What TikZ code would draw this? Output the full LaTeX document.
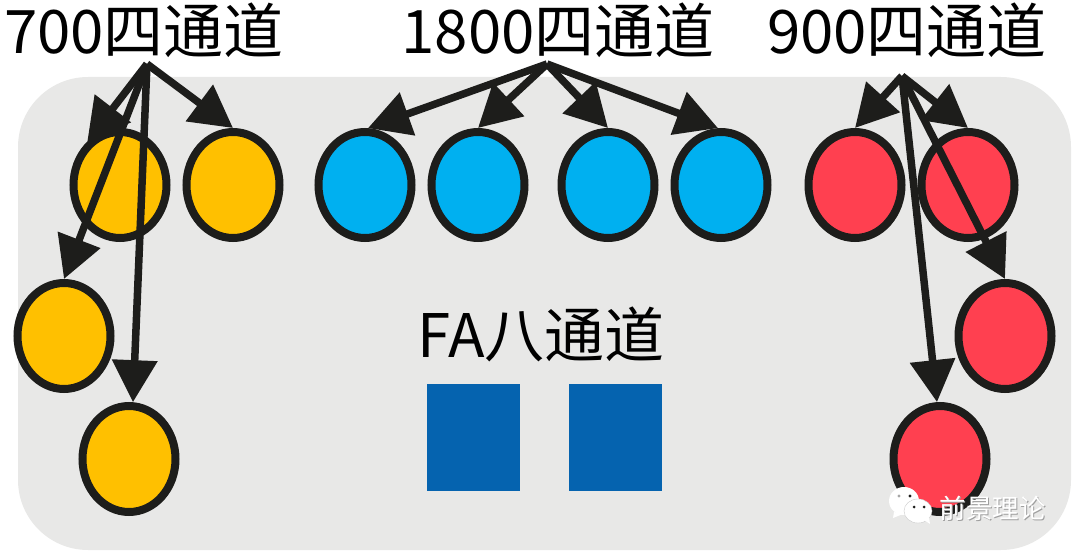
\documentclass[tikz,border=0pt]{standalone}
\usepackage{fontspec}
\setmainfont{Noto Sans CJK SC}
\usetikzlibrary{shapes.geometric,arrows.meta}
\definecolor{panel}{HTML}{E8E8E7}
\definecolor{ink}{HTML}{1D1D1B}
\definecolor{orangefill}{HTML}{FFC000}
\definecolor{bluefill}{HTML}{00B0F0}
\definecolor{redfill}{HTML}{FF4050}
\definecolor{squarefill}{HTML}{0563AF}
\tikzset{
  x=1pt,y=-1pt,
  port/.style={ellipse,draw=ink,line width=8pt,minimum width=93pt,minimum height=106pt,inner sep=0pt},
  orangeport/.style={port,fill=orangefill},
  blueport/.style={port,fill=bluefill},
  redport/.style={port,fill=redfill},
  fasquare/.style={rectangle,fill=squarefill,minimum width=93pt,minimum height=107pt,inner sep=0pt},
  heading/.style={font=\fontsize{60pt}{63pt}\selectfont,text=black,inner sep=0pt},
  link/.style={draw=ink,line width=7.5pt,-{Triangle[length=42pt,width=44pt]}},
  wm/.style={font=\fontsize{26.5pt}{29pt}\selectfont,inner sep=0pt},
}
\begin{document}
\begin{tikzpicture}
\useasboundingbox (0,0) rectangle (1080,556);
\fill[panel,rounded corners=70pt] (18,77) rectangle (1071,550);

\node[heading] (t700) at (144,30) {700四通道};
\node[heading] (t1800) at (558,30) {1800四通道};
\node[heading] (t900) at (907,30) {900四通道};
\node[heading] (tfa) at (541,334) {FA八通道};

\node[orangeport] (o1) at (120,185) {};
\node[orangeport] (o2) at (233,185) {};
\node[orangeport] (o3) at (64,336) {};
\node[orangeport] (o4) at (129,459) {};
\node[blueport] (b1) at (365,185) {};
\node[blueport] (b2) at (478,185) {};
\node[blueport] (b3) at (608,185) {};
\node[blueport] (b4) at (721,185) {};
\node[redport] (r1) at (855,185) {};
\node[redport] (r2) at (968,185) {};
\node[redport] (r3) at (1005,336) {};
\node[redport] (r4) at (940,459) {};

\node[fasquare] (s1) at (473.5,437.5) {};
\node[fasquare] (s2) at (615.5,437.5) {};

\coordinate (h700) at (147,64);
\coordinate (h1800) at (547,64);
\coordinate (h900) at (902,76);

\draw[link] (h700) -- (o1.127);
\draw[link] (h700) -- (o2.north);
\draw[link] (h700) -- (o3.north);
\draw[link] (h700) -- (o4.86);
\draw[link] (h1800) -- (b1.87);
\draw[link] (h1800) -- (b2.north);
\draw[link] (h1800) -- (b3.north);
\draw[link] (h1800) -- (b4.93);
\draw[link] (h900) -- (r1.north);
\draw[link] (h900) -- (r2.north);
\draw[link] (h900) -- (r3.north);
\draw[link] (h900) -- (r4.93);

% watermark
\fill[white] (904,501) ellipse (15 and 14);
\fill[white] (894,512) -- (893,518) -- (903,514) -- cycle;
\fill[gray!70] (899,496) circle (1.6);
\fill[ink] (910,496) circle (1.6);
\fill[white,draw=gray!40,line width=.4pt] (918,511) ellipse (14 and 12);
\fill[white] (924,520) -- (930,524) -- (929,517) -- cycle;
\fill[ink] (914,507) circle (1.5);
\fill[ink] (924,507) circle (1.5);
\node[wm,text=gray!75] (wmshadow) at (993.5,509) {前景理论};
\node[wm,text=white] (wmtext) at (992.5,508) {前景理论};
\end{tikzpicture}
\end{document}
